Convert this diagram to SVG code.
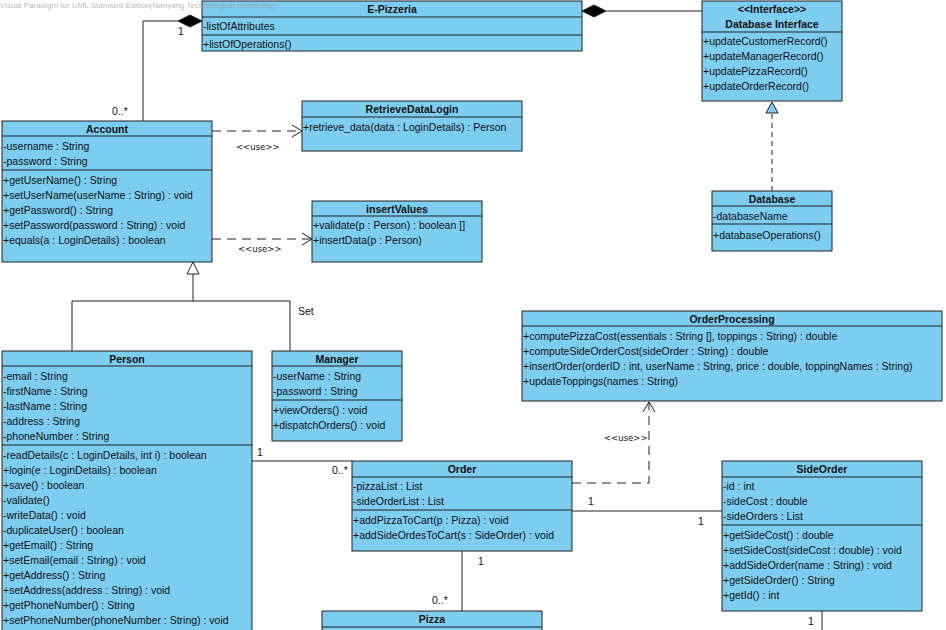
<svg xmlns="http://www.w3.org/2000/svg" width="946" height="630" viewBox="0 0 946 630">
<style>
.b{fill:#7ccdf0;stroke:#222;stroke-width:1}
.l{stroke:#222;stroke-width:1;fill:none}
text{font-family:"Liberation Sans",Arial,sans-serif;font-size:10.5px;fill:#111}
.t{font-weight:bold;text-anchor:middle}
.d{stroke:#222;stroke-width:1;fill:none;stroke-dasharray:9,6}
.u{font-size:8.5px;font-family:"DejaVu Sans",sans-serif}
</style>
<defs>
<marker id="open" markerWidth="12" markerHeight="14" refX="11" refY="7" orient="auto" markerUnits="userSpaceOnUse"><path d="M1,1 L11,7 L1,13" fill="none" stroke="#222"/></marker>
</defs>
<rect width="946" height="630" fill="#fff"/>
<g id="connectors">
<path class="l" d="M582,11 L594,5 L606,11 L594,17 Z" style="fill:#000"/>
<line class="l" x1="606" y1="11" x2="702" y2="11"/>
<path class="l" d="M202,21 L190,15 L178,21 L190,27 Z" style="fill:#000"/>
<polyline class="l" points="178,21 143,21 143,121"/>
<text x="178" y="35">1</text><text x="112" y="115">0..*</text>
<path class="d" d="M772,191 L772,113" style="stroke-dasharray:5,4"/>
<path class="l" d="M772,102 L766,113 L778,113 Z" style="fill:#7ccdf0"/>
<line class="d" x1="212" y1="131" x2="302" y2="131" marker-end="url(#open)"/>
<text class="u" x="236" y="150">&lt;&lt;use&gt;&gt;</text>
<line class="d" x1="212" y1="239" x2="312" y2="239" marker-end="url(#open)"/>
<text class="u" x="238" y="252">&lt;&lt;use&gt;&gt;</text>
<path class="l" d="M193,262 L187,274 L199,274 Z" style="fill:#fff"/>
<polyline class="l" points="193,274 193,301"/>
<polyline class="l" points="72,351 72,301 290,301 290,351"/>
<text x="298" y="315">Set</text>
<line class="l" x1="252" y1="461" x2="352" y2="461"/>
<text x="257" y="456">1</text><text x="332" y="474">0..*</text>
<line class="l" x1="462" y1="551" x2="462" y2="611"/>
<text x="478" y="565">1</text><text x="432" y="604">0..*</text>
<polyline class="d" points="572,483 649,483 649,402" marker-end="url(#open)"/>
<text class="u" x="604" y="441">&lt;&lt;use&gt;&gt;</text>
<line class="l" x1="572" y1="511" x2="722" y2="511"/>
<text x="588" y="505">1</text><text x="698" y="525">1</text>
<line class="l" x1="822" y1="611" x2="822" y2="630"/>
<text x="808" y="625">1</text>
</g>
<g id="EPizzeria">
<rect class="b" x="202" y="1" width="380" height="50"/>
<line class="l" x1="202" y1="17" x2="582" y2="17"/><line class="l" x1="202" y1="35" x2="582" y2="35"/>
<text class="t" x="392" y="13">E-Pizzeria</text>
<text x="203" y="30">-listOfAttributes</text>
<text x="203" y="48">+listOfOperations()</text>
</g>
<g id="DatabaseInterface">
<rect class="b" x="702" y="1" width="140" height="100"/>
<line class="l" x1="702" y1="32" x2="842" y2="32"/>
<text class="t" x="772" y="13">&lt;&lt;Interface&gt;&gt;</text>
<text class="t" x="772" y="28">Database Interface</text>
<text x="703" y="45">+updateCustomerRecord()</text>
<text x="703" y="60">+updateManagerRecord()</text>
<text x="703" y="75">+updatePizzaRecord()</text>
<text x="703" y="90">+updateOrderRecord()</text>
</g>
<g id="Database">
<rect class="b" x="712" y="191" width="120" height="60"/>
<line class="l" x1="712" y1="206" x2="832" y2="206"/><line class="l" x1="712" y1="224" x2="832" y2="224"/>
<text class="t" x="772" y="203">Database</text>
<text x="713" y="220">-databaseName</text>
<text x="713" y="239">+databaseOperations()</text>
</g>
<g id="Account">
<rect class="b" x="2" y="121" width="210" height="141"/>
<line class="l" x1="2" y1="136" x2="212" y2="136"/><line class="l" x1="2" y1="170" x2="212" y2="170"/>
<text class="t" x="107" y="133">Account</text>
<text x="3" y="150">-username : String</text>
<text x="3" y="165">-password : String</text>
<text x="3" y="184">+getUserName() : String</text>
<text x="3" y="199">+setUserName(userName : String) : void</text>
<text x="3" y="214">+getPassword() : String</text>
<text x="3" y="229">+setPassword(password : String) : void</text>
<text x="3" y="244">+equals(a : LoginDetails) : boolean</text>
</g>
<g id="RetrieveDataLogin">
<rect class="b" x="302" y="101" width="220" height="50"/>
<line class="l" x1="302" y1="117" x2="522" y2="117"/>
<text class="t" x="412" y="113">RetrieveDataLogin</text>
<text x="303" y="131">+retrieve_data(data : LoginDetails) : Person</text>
</g>
<g id="insertValues">
<rect class="b" x="312" y="201" width="170" height="61"/>
<line class="l" x1="312" y1="216" x2="482" y2="216"/>
<text class="t" x="397" y="213">insertValues</text>
<text x="313" y="229">+validate(p : Person) : boolean []</text>
<text x="313" y="244">+insertData(p : Person)</text>
</g>
<g id="Person">
<rect class="b" x="2" y="351" width="250" height="285"/>
<line class="l" x1="2" y1="366" x2="252" y2="366"/><line class="l" x1="2" y1="445" x2="252" y2="445"/>
<text class="t" x="127" y="363">Person</text>
<text x="3" y="380">-email : String</text>
<text x="3" y="395">-firstName : String</text>
<text x="3" y="410">-lastName : String</text>
<text x="3" y="425">-address : String</text>
<text x="3" y="440">-phoneNumber : String</text>
<text x="3" y="459">-readDetails(c : LoginDetails, int i) : boolean</text>
<text x="3" y="474">+login(e : LoginDetails) : boolean</text>
<text x="3" y="489">+save() : boolean</text>
<text x="3" y="504">-validate()</text>
<text x="3" y="519">-writeData() : void</text>
<text x="3" y="534">-duplicateUser() : boolean</text>
<text x="3" y="549">+getEmail() : String</text>
<text x="3" y="564">+setEmail(email : String) : void</text>
<text x="3" y="579">+getAddress() : String</text>
<text x="3" y="594">+setAddress(address : String) : void</text>
<text x="3" y="609">+getPhoneNumber() : String</text>
<text x="3" y="624">+setPhoneNumber(phoneNumber : String) : void</text>
</g>
<g id="Manager">
<rect class="b" x="272" y="351" width="130" height="90"/>
<line class="l" x1="272" y1="366" x2="402" y2="366"/><line class="l" x1="272" y1="400" x2="402" y2="400"/>
<text class="t" x="337" y="363">Manager</text>
<text x="273" y="380">-userName : String</text>
<text x="273" y="395">-password : String</text>
<text x="273" y="414">+viewOrders() : void</text>
<text x="273" y="429">+dispatchOrders() : void</text>
</g>
<g id="Order">
<rect class="b" x="352" y="461" width="220" height="90"/>
<line class="l" x1="352" y1="477" x2="572" y2="477"/><line class="l" x1="352" y1="510" x2="572" y2="510"/>
<text class="t" x="462" y="473">Order</text>
<text x="353" y="490">-pizzaList : List</text>
<text x="353" y="505">-sideOrderList : List</text>
<text x="353" y="524">+addPizzaToCart(p : Pizza) : void</text>
<text x="353" y="539">+addSideOrdesToCart(s : SideOrder) : void</text>
</g>
<g id="Pizza">
<rect class="b" x="322" y="611" width="220" height="30"/>
<line class="l" x1="322" y1="627" x2="542" y2="627"/>
<text class="t" x="432" y="623">Pizza</text>
</g>
<g id="OrderProcessing">
<rect class="b" x="522" y="311" width="420" height="90"/>
<line class="l" x1="522" y1="326" x2="942" y2="326"/>
<text class="t" x="732" y="323">OrderProcessing</text>
<text x="523" y="340">+computePizzaCost(essentials : String [], toppings : String) : double</text>
<text x="523" y="355">+computeSideOrderCost(sideOrder : String) : double</text>
<text x="523" y="370">+insertOrder(orderID : int, userName : String, price : double, toppingNames : String)</text>
<text x="523" y="385">+updateToppings(names : String)</text>
</g>
<g id="SideOrder">
<rect class="b" x="722" y="461" width="200" height="150"/>
<line class="l" x1="722" y1="477" x2="922" y2="477"/><line class="l" x1="722" y1="525" x2="922" y2="525"/>
<text class="t" x="822" y="473">SideOrder</text>
<text x="723" y="490">-id : int</text>
<text x="723" y="505">-sideCost : double</text>
<text x="723" y="520">-sideOrders : List</text>
<text x="723" y="539">+getSideCost() : double</text>
<text x="723" y="554">+setSideCost(sideCost : double) : void</text>
<text x="723" y="569">+addSideOrder(name : String) : void</text>
<text x="723" y="584">+getSideOrder() : String</text>
<text x="723" y="599">+getId() : int</text>
</g>
<text x="0" y="8" style="font-size:8px;fill:#999;fill-opacity:0.7">Visual Paradigm for UML Standard Edition(Nanyang Technological University)</text>
</svg>
